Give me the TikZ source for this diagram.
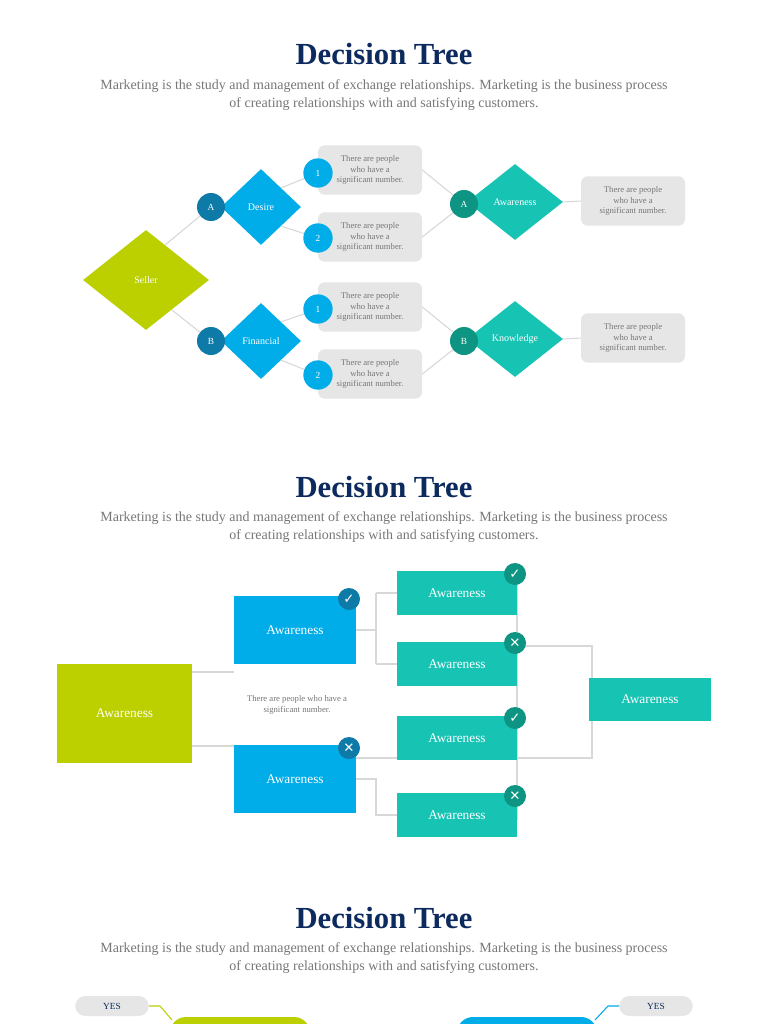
\documentclass[tikz,border=0pt]{standalone}
\usepackage{fontspec}
\setmainfont{Liberation Serif}
\newfontfamily\symfont{DejaVu Sans}
\usetikzlibrary{shapes.geometric}
\definecolor{navy}{HTML}{0D2A5E}
\definecolor{lime}{HTML}{BCD000}
\definecolor{sky}{HTML}{00ADE8}
\definecolor{teal2}{HTML}{17C4B4}
\definecolor{dblue}{HTML}{0E7AA8}
\definecolor{dteal}{HTML}{0E9482}
\definecolor{lgray}{HTML}{E6E6E6}
\definecolor{tgray}{HTML}{777777}
\definecolor{lline}{HTML}{D8D8D8}
\tikzset{
 title/.style={font=\bfseries\fontsize{23}{26}\selectfont,text=navy},
 sub/.style={font=\fontsize{10.5}{13}\selectfont,text=tgray,align=center},
 dia/.style n args={2}{diamond,minimum width=#1,minimum height=#2,inner sep=0,text=white,font=\fontsize{7.5}{9}\selectfont},
 circ/.style={circle,minimum size=#1,inner sep=0,text=white,font=\fontsize{7}{8}\selectfont},
 gbox/.style={fill=lgray,rounded corners=5pt,minimum width=78pt,minimum height=37pt,text=tgray,align=center,font=\fontsize{6.5}{8}\selectfont,inner sep=0},
 rbox/.style={text=white,font=\fontsize{10}{12}\selectfont,inner sep=0},
 conn/.style={lline,line width=0.8pt},
 tickmark/.style={circle,minimum size=16.5pt,inner sep=0,text=white,font=\symfont\fontsize{10}{10}\selectfont},
 pill/.style={fill=lgray,rounded corners=7.5pt,minimum width=55pt,minimum height=15pt,text=navy,font=\fontsize{7}{8}\selectfont,inner sep=0},
}
\begin{document}
\begin{tikzpicture}[x=0.75pt,y=-0.75pt]
\useasboundingbox (0,0) rectangle (768,1024);
\fill[white] (0,0) rectangle (768,1024);
% ===== Section 1
\node[title] (t1) at (384,54) {Decision Tree};
\node[sub] (s1) at (384,95) {Marketing is the study and management of exchange relationships. Marketing is the business process\\of creating relationships with and satisfying customers.};
\node[dia={94.5pt}{75pt},fill=lime] (seller) at (146,280) {Seller};
\node[dia={60pt}{57pt},fill=sky] (desire) at (261,207) {Desire};
\node[dia={60pt}{57pt},fill=sky] (fin) at (261,341) {Financial};
\node[dia={72pt}{57pt},fill=teal2] (aw) at (515,202) {Awareness};
\node[dia={72pt}{57pt},fill=teal2] (kn) at (515,339) {Knowledge};
\node[gbox] (g1) at (370,170) {There are people\\who have a\\significant number.};
\node[gbox] (g2) at (370,237) {There are people\\who have a\\significant number.};
\node[gbox] (g3) at (370,307) {There are people\\who have a\\significant number.};
\node[gbox] (g4) at (370,374) {There are people\\who have a\\significant number.};
\node[gbox] (g5) at (633,201) {There are people\\who have a\\significant number.};
\node[gbox] (g6) at (633,338) {There are people\\who have a\\significant number.};
\coordinate (sT) at (165,245); \coordinate (sB) at (172,310);
\node[circ=21pt,fill=dblue] (ca) at (211,207) {A};
\node[circ=21pt,fill=dblue] (cb) at (211,341) {B};
\draw[conn] (sT) -- (ca); \draw[conn] (sB) -- (cb);
\draw[conn] (desire.north east) -- (318,173);
\draw[conn] (desire.south east) -- (318,238);
\draw[conn] (fin.north east) -- (318,309);
\draw[conn] (fin.south east) -- (318,375);
\node[circ=22pt,fill=sky] (n1) at (318,173) {1};
\node[circ=22pt,fill=sky] (n2) at (318,238) {2};
\node[circ=22pt,fill=sky] (n3) at (318,309) {1};
\node[circ=22pt,fill=sky] (n4) at (318,375) {2};
\draw[conn] (g1.east) -- (464,204); \draw[conn] (g2.east) -- (464,204);
\draw[conn] (g3.east) -- (464,341); \draw[conn] (g4.east) -- (464,341);
\draw[conn] (aw.east) -- (g5.west); \draw[conn] (kn.east) -- (g6.west);
\node[circ=21pt,fill=dteal] (ta) at (464,204) {A};
\node[circ=21pt,fill=dteal] (tb) at (464,341) {B};
% ===== Section 2
\node[title] (t2) at (384,487) {Decision Tree};
\node[sub] (s2) at (384,527) {Marketing is the study and management of exchange relationships. Marketing is the business process\\of creating relationships with and satisfying customers.};
\draw[conn] (192,672) -- (234,672);
\draw[conn] (192,746) -- (234,746);
\draw[conn] (356,630) -- (376,630) (376,593) -- (376,664) (376,593) -- (397,593) (376,664) -- (397,664);
\draw[conn] (356,758) -- (397,758);
\draw[conn] (356,779) -- (376,779) -- (376,815) -- (397,815);
\draw[conn] (517,646) -- (592,646) -- (592,758) -- (517,758);
\draw[conn] (517,571) -- (517,820);
\node[rbox,fill=lime,minimum width=101pt,minimum height=74pt] (gr) at (124.5,713.5) {Awareness};
\node[rbox,fill=sky,minimum width=91.5pt,minimum height=51pt] (b1) at (295,630) {Awareness};
\node[rbox,fill=sky,minimum width=91.5pt,minimum height=51pt] (b2) at (295,779) {Awareness};
\node[rbox,fill=teal2,minimum width=90pt,minimum height=33pt] (e1) at (457,593) {Awareness};
\node[rbox,fill=teal2,minimum width=90pt,minimum height=33pt] (e2) at (457,664) {Awareness};
\node[rbox,fill=teal2,minimum width=90pt,minimum height=33pt] (e3) at (457,738) {Awareness};
\node[rbox,fill=teal2,minimum width=90pt,minimum height=33pt] (e4) at (457,815) {Awareness};
\node[rbox,fill=teal2,minimum width=91.5pt,minimum height=32pt] (fr) at (650,699.5) {Awareness};
\node[text=tgray,align=center,font=\fontsize{6.5}{8}\selectfont] (note) at (297,705) {There are people who have a\\significant number.};
\node[tickmark,fill=dblue] (m1) at (349,599) {✓};
\node[tickmark,fill=dblue] (m2) at (349,748) {✕};
\node[tickmark,fill=dteal] (m3) at (515,574) {✓};
\node[tickmark,fill=dteal] (m4) at (515,643) {✕};
\node[tickmark,fill=dteal] (m5) at (515,718) {✓};
\node[tickmark,fill=dteal] (m6) at (515,796) {✕};
% ===== Section 3
\node[title] (t3) at (384,918) {Decision Tree};
\node[sub] (s3) at (384,958) {Marketing is the study and management of exchange relationships. Marketing is the business process\\of creating relationships with and satisfying customers.};
\node[pill] (y1) at (112,1006) {YES};
\node[pill] (y2) at (656,1006) {YES};
\fill[lime,rounded corners=12pt] (170,1017) rectangle (310,1060);
\fill[sky,rounded corners=12pt] (457,1017) rectangle (597,1060);
\coordinate (l1) at (172,1020); \coordinate (l2) at (595,1020);
\draw[lime,line width=0.8pt] (y1.east) -- (160,1006) -- (l1);
\draw[sky,line width=0.8pt] (y2.west) -- (608,1006) -- (l2);
\end{tikzpicture}
\end{document}
